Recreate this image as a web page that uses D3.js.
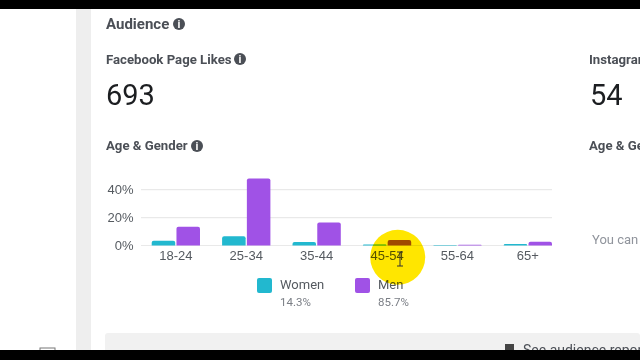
<!DOCTYPE html>
<html>
<head>
<meta charset="utf-8">
<script src="https://cdn.jsdelivr.net/npm/d3@7"></script>
<style>
  html, body { margin: 0; padding: 0; background: #fff; overflow: hidden; }
  svg { display: block; font-family: Roboto, sans-serif; }
  .head { font-weight: 700; fill: #4b4f56; font-family: Roboto, sans-serif; }
  .tick text { font-size: 13px; fill: #555a60; }
</style>
</head>
<body>
<svg id="chart" width="640" height="360"></svg>
<script>
const ageGroups = ['18-24', '25-34', '35-44', '45-54', '55-64', '65+'];
const women = [3.4, 6.7, 2.5, 0.7, 0.3, 1.0];
const men = [13.4, 48, 16.5, 3.9, 0.5, 2.7];
const yTicks = [0, 20, 40];
const legendNames = ['Women', 'Men'];
const legendShares = ['14.3%', '85.7%'];
const colors = ['#22b8cf', '#a052e6'];

const svg = d3.select('#chart');

// page furniture behind the chart
svg.append('rect').attr('x', 76).attr('y', 9).attr('width', 15).attr('height', 341).attr('fill', '#eeeeee');
svg.append('rect').attr('x', 105).attr('y', 333).attr('width', 535).attr('height', 20).attr('rx', 3).attr('fill', '#f1f1f1');

const heading = (x, y, size, label) => svg.append('text')
  .attr('class', 'head').attr('x', x).attr('y', y)
  .attr('font-size', size).text(label);

const infoIcon = (x, y) => {
  svg.append('circle').attr('cx', x).attr('cy', y).attr('r', 6).attr('fill', '#4b4f56');
  svg.append('text').attr('x', x).attr('y', y + 4).attr('text-anchor', 'middle')
    .attr('font-size', 11).attr('font-weight', 700).attr('fill', '#fff').text('i');
};

heading(106, 29, 15, 'Audience');
infoIcon(179, 24);
heading(106, 64, 13.2, 'Facebook Page Likes');
infoIcon(240, 59);
heading(106, 150, 13.2, 'Age & Gender');
infoIcon(197, 146);
heading(589, 64, 13.2, 'Instagram');
heading(589, 150, 13.2, 'Age & Gender');

svg.append('text').attr('x', 106).attr('y', 105).attr('font-size', 29).attr('fill', '#1c1e21').text('693');
svg.append('text').attr('x', 590).attr('y', 105).attr('font-size', 29).attr('fill', '#1c1e21').text('54');
svg.append('text').attr('x', 592).attr('y', 244).attr('font-size', 13).attr('fill', '#90949c').text('You can');

// scales
const x = d3.scaleBand().domain(ageGroups).range([151.7, 552]).paddingInner(0.314);
const side = d3.scaleBand().domain(legendNames).range([0, x.bandwidth()]).paddingInner(0.05);
const y = d3.scaleLinear().domain([0, 40]).range([245.5, 189.7]);

// grid
svg.append('g').selectAll('line').data(yTicks).join('line')
  .attr('x1', 141).attr('x2', 552)
  .attr('y1', d => y(d)).attr('y2', d => y(d))
  .attr('stroke', '#e9e9e9').attr('stroke-width', 1.2);

const yAxis = d3.axisLeft(y).tickValues(yTicks).tickSize(0).tickPadding(0).tickFormat(d => d + '%');
svg.append('g').attr('transform', 'translate(133.5,0)').call(yAxis)
  .call(g => g.select('.domain').remove());

const xAxis = d3.axisBottom(x).tickSize(0).tickPadding(0);
svg.append('g').attr('transform', 'translate(0,251)').call(xAxis)
  .call(g => g.select('.domain').remove());

// bars, small radius on the top corners
const barPath = (x0, w, top, base) => {
  const r = Math.min(2, base - top);
  return `M${x0},${base}V${top + r}Q${x0},${top} ${x0 + r},${top}H${x0 + w - r}Q${x0 + w},${top} ${x0 + w},${top + r}V${base}Z`;
};

[women, men].forEach((values, i) => {
  svg.append('g').selectAll('path').data(values).join('path')
    .attr('fill', colors[i])
    .attr('d', (d, j) => barPath(x(ageGroups[j]) + side(legendNames[i]), side.bandwidth(), y(d), y(0)));
});

// legend
const legendX = d3.scaleOrdinal().domain(legendNames).range([257, 355]);
legendNames.forEach((name, i) => {
  svg.append('rect').attr('x', legendX(name)).attr('y', 278).attr('width', 15).attr('height', 15)
    .attr('rx', 2).attr('fill', colors[i]);
  svg.append('text').attr('x', legendX(name) + 23).attr('y', 289).attr('font-size', 13)
    .attr('fill', '#555a60').text(name);
  svg.append('text').attr('x', legendX(name) + 23).attr('y', 306).attr('font-size', 11.5)
    .attr('fill', '#7a7e85').text(legendShares[i]);
});

// yellow cursor highlight from the screen recording
svg.append('circle').attr('cx', 397.7).attr('cy', 257.3).attr('r', 27.5)
  .attr('fill', '#ffe600').style('mix-blend-mode', 'multiply');
svg.append('path').attr('d', 'M397,252H403M400,252V266M397,266H403')
  .attr('stroke', '#333').attr('stroke-width', 1).attr('fill', 'none');

// footer bits that get cut off by the bottom letterbox
svg.append('rect').attr('x', 505).attr('y', 344).attr('width', 9).attr('height', 9).attr('fill', '#444');
svg.append('text').attr('x', 523).attr('y', 355).attr('font-size', 14).attr('fill', '#4b4f56').text('See audience report');
svg.append('rect').attr('x', 40).attr('y', 348).attr('width', 15).attr('height', 6).attr('fill', 'none').attr('stroke', '#777');

// black letterbox
svg.append('rect').attr('x', 0).attr('y', 0).attr('width', 640).attr('height', 9).attr('fill', '#000');
svg.append('rect').attr('x', 0).attr('y', 350).attr('width', 640).attr('height', 10).attr('fill', '#000');
</script>
</body>
</html>
